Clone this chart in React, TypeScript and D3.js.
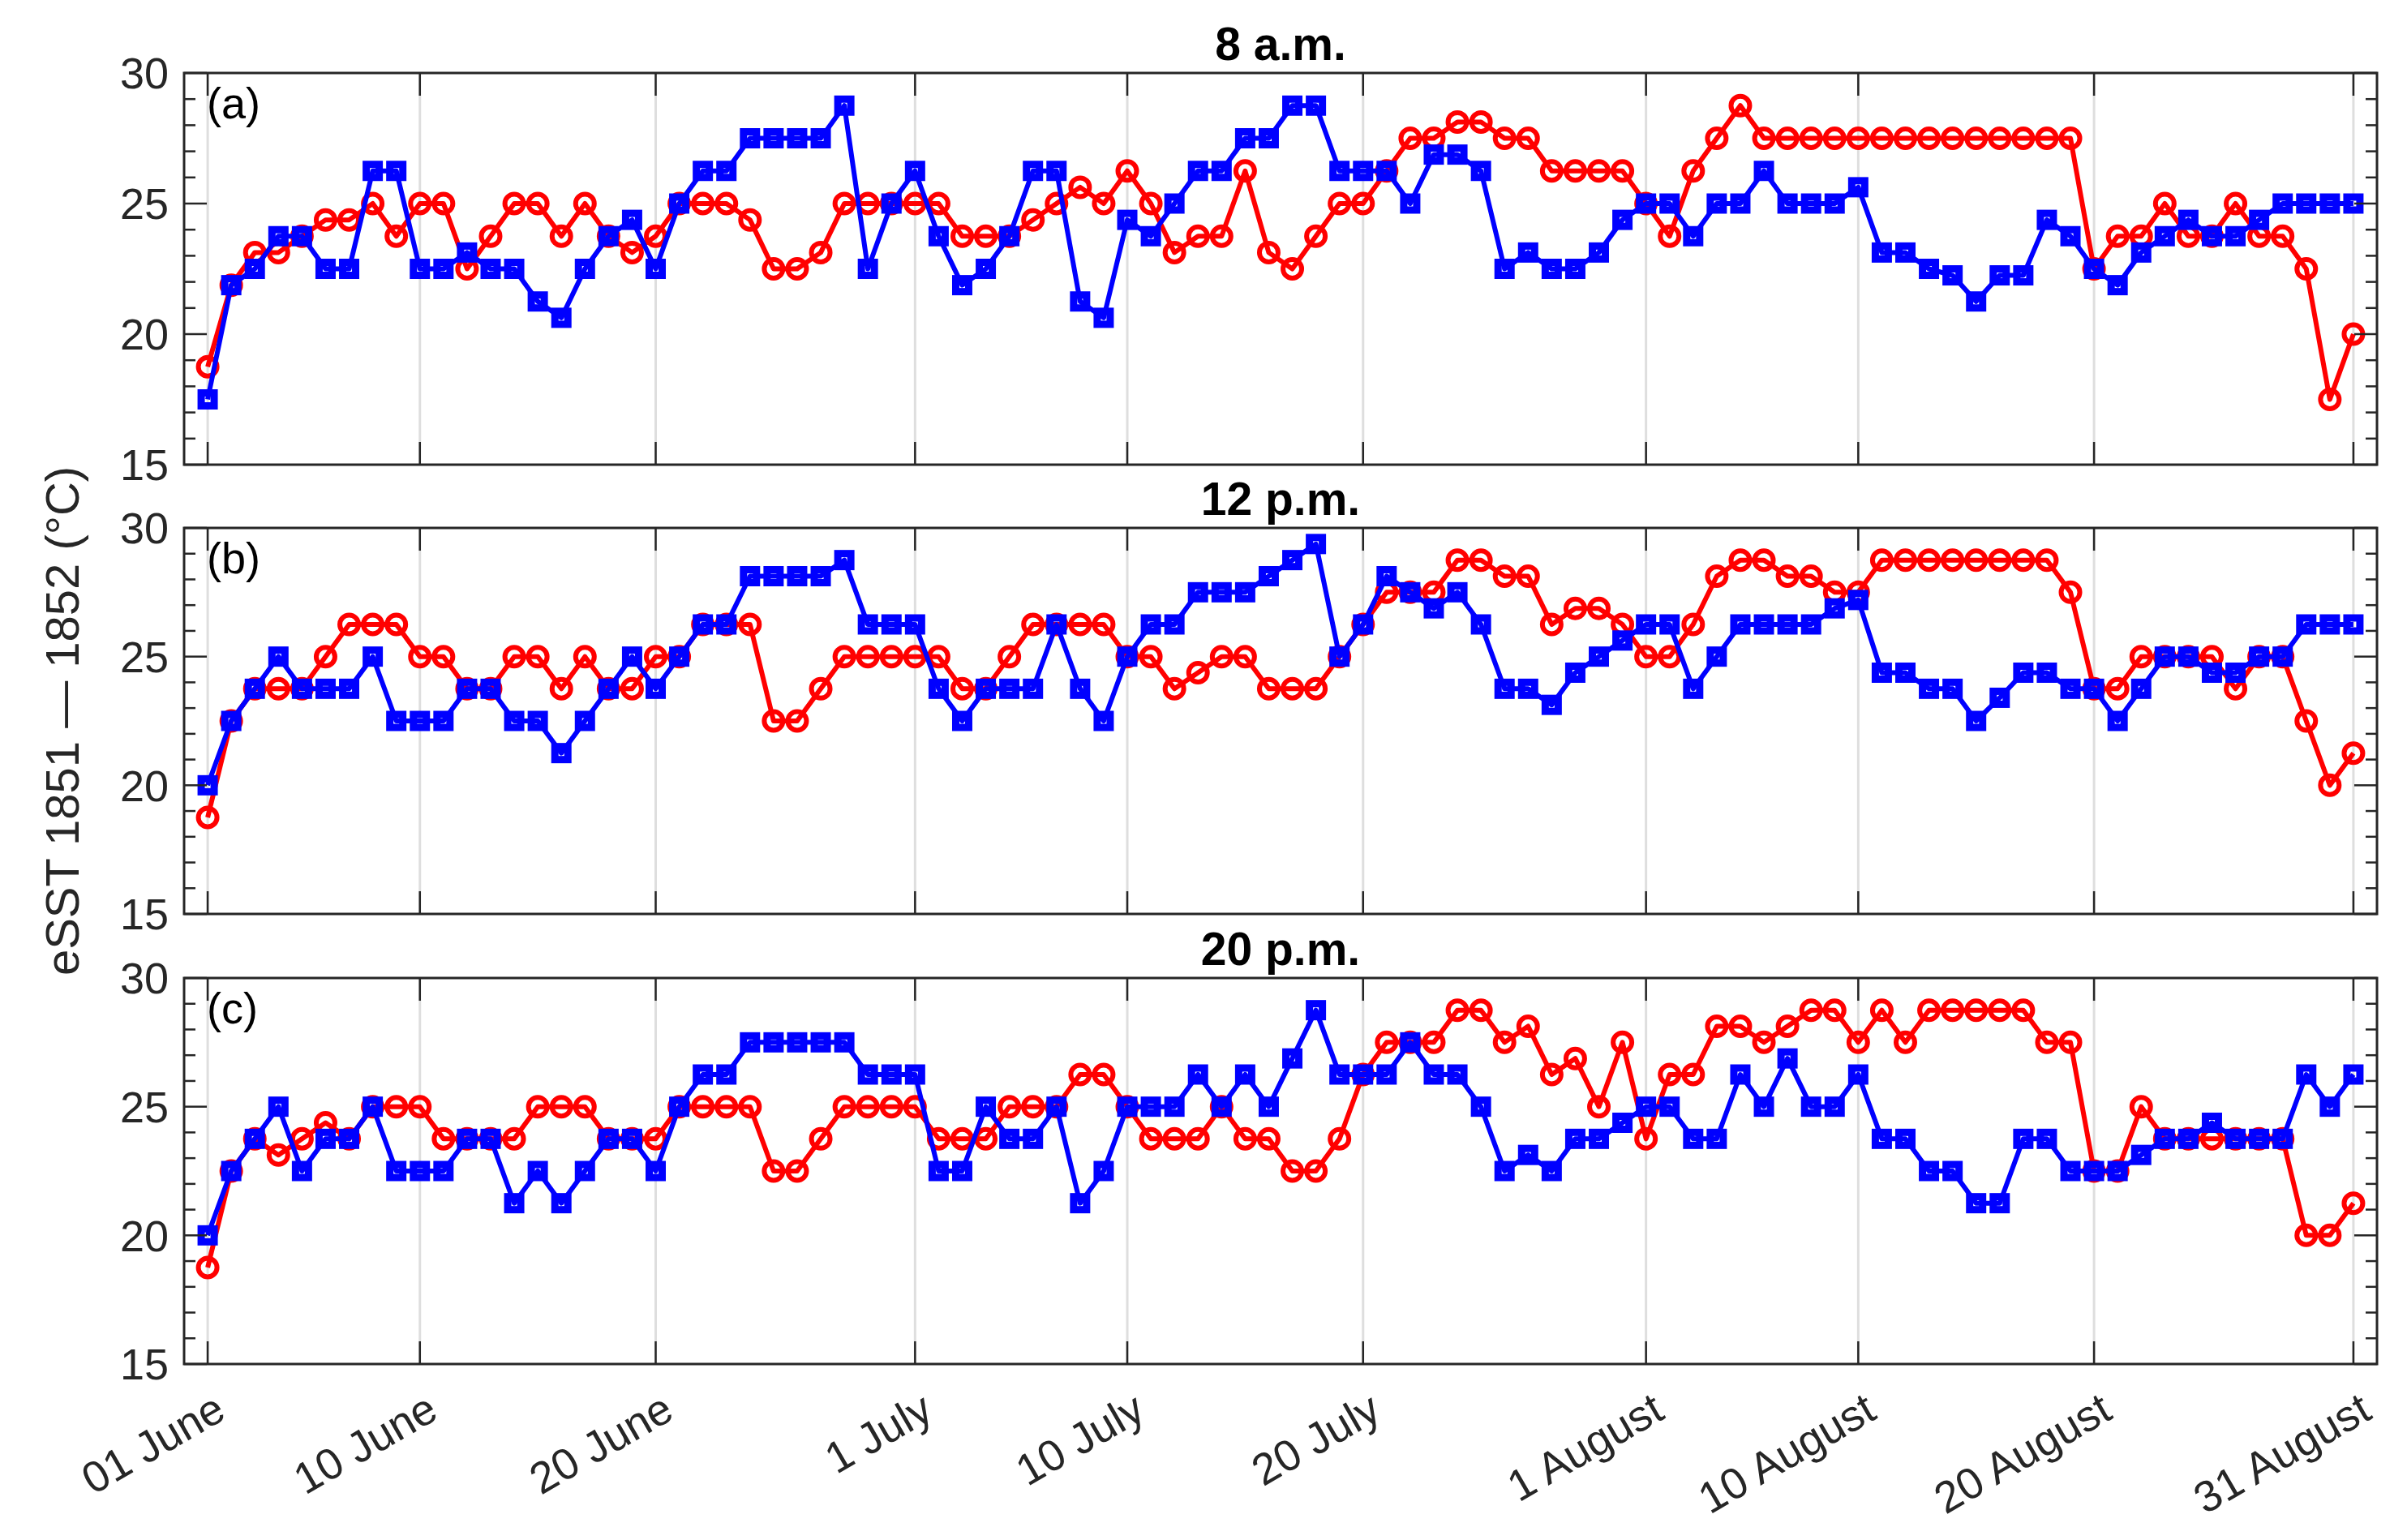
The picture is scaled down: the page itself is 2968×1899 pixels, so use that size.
import React from 'react';
import * as d3 from 'd3';

// ---------- data ----------
const dayStart = new Date(Date.UTC(1851, 5, 1));
const dayEnd = new Date(Date.UTC(1851, 8, 1));
const dates: Date[] = d3.utcDay.range(dayStart, dayEnd); // 01 June .. 31 August (92 days)

const tickDates = [
  new Date(Date.UTC(1851, 5, 1)),
  new Date(Date.UTC(1851, 5, 10)),
  new Date(Date.UTC(1851, 5, 20)),
  new Date(Date.UTC(1851, 6, 1)),
  new Date(Date.UTC(1851, 6, 10)),
  new Date(Date.UTC(1851, 6, 20)),
  new Date(Date.UTC(1851, 7, 1)),
  new Date(Date.UTC(1851, 7, 10)),
  new Date(Date.UTC(1851, 7, 20)),
  new Date(Date.UTC(1851, 7, 31)),
];
const tickLabels = ['01 June', '10 June', '20 June', '1 July', '10 July', '20 July', '1 August', '10 August', '20 August', '31 August'];

const yMajor = [15, 20, 25, 30];
const yMinor = [16, 17, 18, 19, 21, 22, 23, 24, 26, 27, 28, 29];

const panelTitles = ['8 a.m.', '12 p.m.', '20 p.m.'];
const panelTags = ['(a)', '(b)', '(c)'];
const yLabel = 'eSST 1851 \u2014 1852 (\u00B0C)';

// 8 a.m.
const red8am = [
  18.75, 21.875, 23.125, 23.125, 23.75, 24.375, 24.375, 25, 23.75, 25,
  25, 22.5, 23.75, 25, 25, 23.75, 25, 23.75, 23.125, 23.75,
  25, 25, 25, 24.375, 22.5, 22.5, 23.125, 25, 25, 25,
  25, 25, 23.75, 23.75, 23.75, 24.375, 25, 25.625, 25, 26.25,
  25, 23.125, 23.75, 23.75, 26.25, 23.125, 22.5, 23.75, 25, 25,
  26.25, 27.5, 27.5, 28.125, 28.125, 27.5, 27.5, 26.25, 26.25, 26.25,
  26.25, 25, 23.75, 26.25, 27.5, 28.75, 27.5, 27.5, 27.5, 27.5,
  27.5, 27.5, 27.5, 27.5, 27.5, 27.5, 27.5, 27.5, 27.5, 27.5,
  22.5, 23.75, 23.75, 25, 23.75, 23.75, 25, 23.75, 23.75, 22.5,
  17.5, 20,
];
const blue8am = [
  17.5, 21.875, 22.5, 23.75, 23.75, 22.5, 22.5, 26.25, 26.25, 22.5,
  22.5, 23.125, 22.5, 22.5, 21.25, 20.625, 22.5, 23.75, 24.375, 22.5,
  25, 26.25, 26.25, 27.5, 27.5, 27.5, 27.5, 28.75, 22.5, 25,
  26.25, 23.75, 21.875, 22.5, 23.75, 26.25, 26.25, 21.25, 20.625, 24.375,
  23.75, 25, 26.25, 26.25, 27.5, 27.5, 28.75, 28.75, 26.25, 26.25,
  26.25, 25, 26.875, 26.875, 26.25, 22.5, 23.125, 22.5, 22.5, 23.125,
  24.375, 25, 25, 23.75, 25, 25, 26.25, 25, 25, 25,
  25.625, 23.125, 23.125, 22.5, 22.25, 21.25, 22.25, 22.25, 24.375, 23.75,
  22.5, 21.875, 23.125, 23.75, 24.375, 23.75, 23.75, 24.375, 25, 25,
  25, 25,
];
// 12 p.m.
const red12pm = [
  18.75, 22.5, 23.75, 23.75, 23.75, 25, 26.25, 26.25, 26.25, 25,
  25, 23.75, 23.75, 25, 25, 23.75, 25, 23.75, 23.75, 25,
  25, 26.25, 26.25, 26.25, 22.5, 22.5, 23.75, 25, 25, 25,
  25, 25, 23.75, 23.75, 25, 26.25, 26.25, 26.25, 26.25, 25,
  25, 23.75, 24.375, 25, 25, 23.75, 23.75, 23.75, 25, 26.25,
  27.5, 27.5, 27.5, 28.75, 28.75, 28.125, 28.125, 26.25, 26.875, 26.875,
  26.25, 25, 25, 26.25, 28.125, 28.75, 28.75, 28.125, 28.125, 27.5,
  27.5, 28.75, 28.75, 28.75, 28.75, 28.75, 28.75, 28.75, 28.75, 27.5,
  23.75, 23.75, 25, 25, 25, 25, 23.75, 25, 25, 22.5,
  20, 21.25,
];
const blue12pm = [
  20, 22.5, 23.75, 25, 23.75, 23.75, 23.75, 25, 22.5, 22.5,
  22.5, 23.75, 23.75, 22.5, 22.5, 21.25, 22.5, 23.75, 25, 23.75,
  25, 26.25, 26.25, 28.125, 28.125, 28.125, 28.125, 28.75, 26.25, 26.25,
  26.25, 23.75, 22.5, 23.75, 23.75, 23.75, 26.25, 23.75, 22.5, 25,
  26.25, 26.25, 27.5, 27.5, 27.5, 28.125, 28.75, 29.375, 25, 26.25,
  28.125, 27.5, 26.875, 27.5, 26.25, 23.75, 23.75, 23.125, 24.375, 25,
  25.625, 26.25, 26.25, 23.75, 25, 26.25, 26.25, 26.25, 26.25, 26.875,
  27.2, 24.375, 24.375, 23.75, 23.75, 22.5, 23.4, 24.375, 24.375, 23.75,
  23.75, 22.5, 23.75, 25, 25, 24.375, 24.375, 25, 25, 26.25,
  26.25, 26.25,
];
// 20 p.m.
const red20pm = [
  18.75, 22.5, 23.75, 23.125, 23.75, 24.375, 23.75, 25, 25, 25,
  23.75, 23.75, 23.75, 23.75, 25, 25, 25, 23.75, 23.75, 23.75,
  25, 25, 25, 25, 22.5, 22.5, 23.75, 25, 25, 25,
  25, 23.75, 23.75, 23.75, 25, 25, 25, 26.25, 26.25, 25,
  23.75, 23.75, 23.75, 25, 23.75, 23.75, 22.5, 22.5, 23.75, 26.25,
  27.5, 27.5, 27.5, 28.75, 28.75, 27.5, 28.125, 26.25, 26.875, 25,
  27.5, 23.75, 26.25, 26.25, 28.125, 28.125, 27.5, 28.125, 28.75, 28.75,
  27.5, 28.75, 27.5, 28.75, 28.75, 28.75, 28.75, 28.75, 27.5, 27.5,
  22.5, 22.5, 25, 23.75, 23.75, 23.75, 23.75, 23.75, 23.75, 20,
  20, 21.25,
];
const blue20pm = [
  20, 22.5, 23.75, 25, 22.5, 23.75, 23.75, 25, 22.5, 22.5,
  22.5, 23.75, 23.75, 21.25, 22.5, 21.25, 22.5, 23.75, 23.75, 22.5,
  25, 26.25, 26.25, 27.5, 27.5, 27.5, 27.5, 27.5, 26.25, 26.25,
  26.25, 22.5, 22.5, 25, 23.75, 23.75, 25, 21.25, 22.5, 25,
  25, 25, 26.25, 25, 26.25, 25, 26.875, 28.75, 26.25, 26.25,
  26.25, 27.5, 26.25, 26.25, 25, 22.5, 23.125, 22.5, 23.75, 23.75,
  24.375, 25, 25, 23.75, 23.75, 26.25, 25, 26.875, 25, 25,
  26.25, 23.75, 23.75, 22.5, 22.5, 21.25, 21.25, 23.75, 23.75, 22.5,
  22.5, 22.5, 23.125, 23.75, 23.75, 24.375, 23.75, 23.75, 23.75, 26.25,
  25, 26.25,
];

const redSeries = [red8am, red12pm, red20pm];
const blueSeries = [blue8am, blue12pm, blue20pm];

// ---------- layout ----------
const W = 2968;
const H = 1899;
const X0 = 227;
const X1 = 2931;
const panelBoxes = [
  { top: 90, bottom: 573 },
  { top: 651, bottom: 1127 },
  { top: 1206, bottom: 1682 },
];
const FONT = "'Liberation Sans', Arial, Helvetica, sans-serif";
const AX = '#262626';
const RED = '#ff0000';
const BLUE = '#0000ff';
const TICK_FS = 54;

function Panel({ idx, x }: { idx: number; x: d3.ScaleTime<number, number> }) {
  const { top, bottom } = panelBoxes[idx];
  const y = d3.scaleLinear().domain([15, 30]).range([bottom, top]);
  const line = d3
    .line<number>()
    .x((_, i) => x(dates[i]))
    .y((v) => y(v));
  const red = redSeries[idx];
  const blue = blueSeries[idx];
  const sq = 16;
  return (
    <g>
      {/* grid */}
      {tickDates.map((d, i) => (
        <line key={'g' + i} x1={x(d)} x2={x(d)} y1={top} y2={bottom} stroke="#dedede" strokeWidth={3} />
      ))}
      {/* red series (circles) */}
      <path d={line(red) || ''} fill="none" stroke={RED} strokeWidth={6} strokeLinejoin="round" />
      {red.map((v, i) => (
        <circle key={'r' + i} cx={x(dates[i])} cy={y(v)} r={11.5} fill="none" stroke={RED} strokeWidth={6} />
      ))}
      {/* blue series (squares) */}
      <path d={line(blue) || ''} fill="none" stroke={BLUE} strokeWidth={6} strokeLinejoin="round" />
      {blue.map((v, i) => (
        <rect key={'b' + i} x={x(dates[i]) - sq / 2} y={y(v) - sq / 2} width={sq} height={sq} fill="none" stroke={BLUE} strokeWidth={9} />
      ))}
      {/* x ticks top and bottom */}
      {tickDates.map((d, i) => (
        <g key={'xt' + i}>
          <line x1={x(d)} x2={x(d)} y1={top} y2={top + 28} stroke={AX} strokeWidth={2.5} />
          <line x1={x(d)} x2={x(d)} y1={bottom} y2={bottom - 28} stroke={AX} strokeWidth={2.5} />
        </g>
      ))}
      {/* y ticks */}
      {yMajor.map((v) => (
        <g key={'ym' + v}>
          <line x1={X0} x2={X0 + 28} y1={y(v)} y2={y(v)} stroke={AX} strokeWidth={2.5} />
          <line x1={X1} x2={X1 - 28} y1={y(v)} y2={y(v)} stroke={AX} strokeWidth={2.5} />
          <text x={X0 - 19} y={y(v)} dy="0.36em" textAnchor="end" fontSize={TICK_FS} fontFamily={FONT} fill={AX}>
            {v}
          </text>
        </g>
      ))}
      {yMinor.map((v) => (
        <g key={'yn' + v}>
          <line x1={X0} x2={X0 + 14} y1={y(v)} y2={y(v)} stroke={AX} strokeWidth={2.5} />
          <line x1={X1} x2={X1 - 14} y1={y(v)} y2={y(v)} stroke={AX} strokeWidth={2.5} />
        </g>
      ))}
      {/* box */}
      <rect x={X0} y={top} width={X1 - X0} height={bottom - top} fill="none" stroke={AX} strokeWidth={3} />
      {/* title */}
      <text x={(X0 + X1) / 2} y={top - 16} textAnchor="middle" fontSize={57} fontWeight="bold" fontFamily={FONT} fill="#000">
        {panelTitles[idx]}
      </text>
      {/* tag */}
      <text x={X0 + 28} y={top + 56} fontSize={TICK_FS} fontFamily={FONT} fill="#000">
        {panelTags[idx]}
      </text>
      {/* x tick labels on bottom panel only */}
      {idx === panelBoxes.length - 1 &&
        tickDates.map((d, i) => (
          <text
            key={'xl' + i}
            transform={`translate(${x(d) + 25},${bottom + 66}) rotate(-30)`}
            textAnchor="end"
            fontSize={TICK_FS}
            fontFamily={FONT}
            fill={AX}
          >
            {tickLabels[i]}
          </text>
        ))}
    </g>
  );
}

export default function App() {
  const x = d3
    .scaleUtc()
    .domain([new Date(Date.UTC(1851, 4, 31)), new Date(Date.UTC(1851, 8, 1))])
    .range([X0, X1]);
  return (
    <svg
      width={W}
      height={H}
      viewBox={`0 0 ${W} ${H}`}
      style={{ position: 'absolute', left: 0, top: 0, background: '#fff' }}
    >
      <rect x={0} y={0} width={W} height={H} fill="#fff" />
      {panelBoxes.map((_, i) => (
        <Panel key={i} idx={i} x={x} />
      ))}
      <text
        transform={`translate(97,${(panelBoxes[1].top + panelBoxes[1].bottom) / 2}) rotate(-90)`}
        textAnchor="middle"
        fontSize={58}
        fontFamily={FONT}
        fill={AX}
      >
        {yLabel}
      </text>
    </svg>
  );
}
